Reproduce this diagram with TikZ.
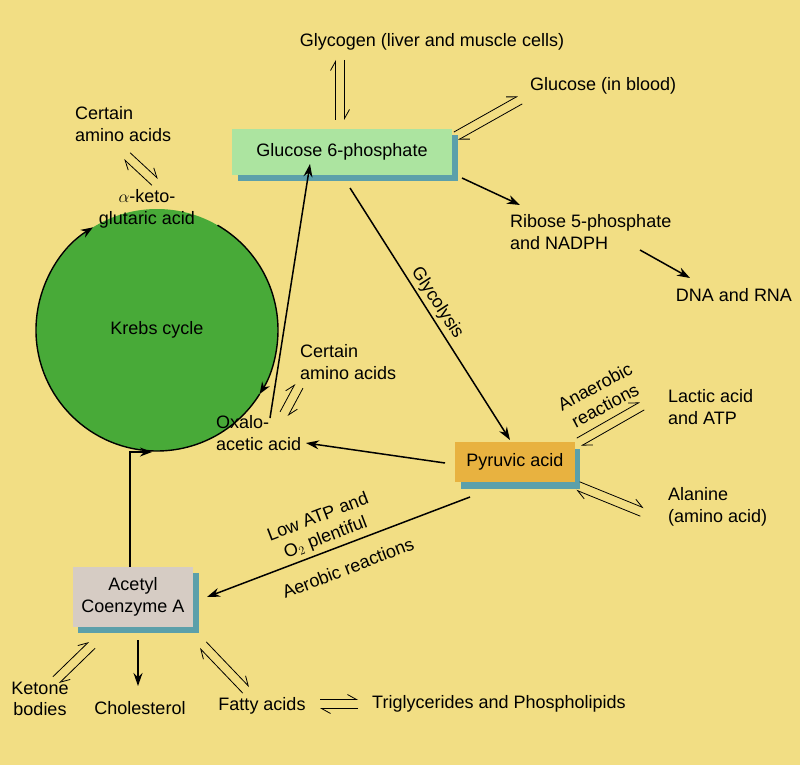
\documentclass[tikz,border=0pt]{standalone}
\usepackage{fontspec}
\setmainfont{Liberation Sans}
\usetikzlibrary{positioning,arrows.meta,calc}
\definecolor{paper}{RGB}{242,222,132}
\definecolor{krebs}{RGB}{72,170,56}
\definecolor{gbox}{RGB}{172,228,160}
\definecolor{pbox}{RGB}{232,178,64}
\definecolor{abox}{RGB}{214,204,196}
\definecolor{boxshadow}{RGB}{92,160,170}
\newcommand\revarrow[2]{%
  \draw[rev] ($(#1)!4.5pt!90:(#2)$) -- ($(#2)!4.5pt!-90:(#1)$);
  \draw[rev] ($(#2)!4.5pt!90:(#1)$) -- ($(#1)!4.5pt!-90:(#2)$);}
\begin{document}
\begin{tikzpicture}[x=1pt,y=-1pt,font=\fontsize{18}{21.5}\selectfont]
  \tikzset{box/.style = {rectangle, inner sep=0pt, text centered},
           txt/.style = {align=left, inner sep=0pt},
           arrow/.style = {line width=1.5pt,-{Stealth[length=13pt,width=9pt]}},
           rev/.style = {line width=0.8pt,-{Straight Barb[harpoon,length=9pt,width=10pt]}} }
  \fill[paper] (0,0) rectangle (800,765);
  \useasboundingbox (0,0) rectangle (800,765);

  % boxes with shadow
  \fill[boxshadow] (238,135) rectangle (458,181);
  \node[box, fill=gbox, minimum width=220pt, minimum height=46pt] (G6P) at (342,152) {Glucose 6-phosphate};
  \fill[boxshadow] (461,449) rectangle (580,489);
  \node[box, fill=pbox, minimum width=120pt, minimum height=40pt] (PA) at (515,462) {Pyruvic acid};
  \fill[boxshadow] (78,573) rectangle (199,633);
  \node[box, fill=abox, minimum width=120pt, minimum height=60pt, align=center] (ACoA) at (133,597) {Acetyl\\Coenzyme A};

  % Krebs cycle
  \fill[krebs] (157,330) circle (121);
  \node (KC) at (157,330) {Krebs cycle};
  \draw[line width=1.4pt,-{Stealth[length=12pt,width=9pt]}] (157,330) ++(-262:121) arc[start angle=-262,end angle=-122,radius=121];
  \draw[line width=1.4pt,-{Stealth[length=12pt,width=9pt]}] (157,330) ++(-60:121) arc[start angle=-60,end angle=32,radius=121];
  \draw[line width=1.4pt] (157,330) ++(32:121) arc[start angle=32,end angle=98,radius=121];

  % texts
  \node[txt] (GLY) at (432,42) {Glycogen (liver and muscle cells)};
  \node[txt, anchor=west] (GLB) at (530,86) {Glucose (in blood)};
  \node[txt, anchor=west] (RIB) at (510,232) {Ribose 5-phosphate\\and NADPH};
  \node[txt] (DNA) at (734,295) {DNA and RNA};
  \node[txt, anchor=west] (AA1) at (75,124) {Certain\\amino acids};
  \node[txt, align=center] (AKG) at (147,209) {$\alpha$-keto-\\glutaric acid};
  \node[txt, anchor=west] (AA2) at (300,362) {Certain\\amino acids};
  \node[txt, anchor=west] (OAA) at (216,433) {Oxalo-\\acetic acid};
  \node[txt, anchor=west] (LAC) at (668,407) {Lactic acid\\and ATP};
  \node[txt, anchor=west] (ALA) at (668,507) {Alanine\\(amino acid)};
  \node[txt, align=center] (KET) at (40,699) {Ketone\\bodies};
  \node[txt] (CHO) at (140,708) {Cholesterol};
  \node[txt] (FA) at (262,706) {Fatty acids};
  \node[txt, anchor=west] (TRI) at (372,704) {Triglycerides and Phospholipids};
  \node[txt, rotate=-57] (GLC) at (437,303) {Glycolysis};
  \node[txt, rotate=28, align=center] (ANA) at (600,396) {Anaerobic\\reactions};
  \node[txt, rotate=21, align=center] (LOW) at (322,528) {Low ATP and\\O$_2$ plentiful};
  \node[txt, rotate=21] (AER) at (348,568) {Aerobic reactions};

  % connector end points
  \coordinate (gA) at (340,60);  \coordinate (gB) at (340,120);
  \coordinate (bA) at (520,100); \coordinate (bB) at (456,136);
  \coordinate (aA) at (127,156); \coordinate (aB) at (155,182);
  \coordinate (mA) at (299,386); \coordinate (mB) at (284,414);
  \coordinate (lA) at (642,406); \coordinate (lB) at (579,442);
  \coordinate (nA) at (578,486); \coordinate (nB) at (642,512);
  \coordinate (kA) at (92,645);  \coordinate (kB) at (56,680);
  \coordinate (fA) at (203,645); \coordinate (fB) at (246,690);
  \coordinate (tA) at (320,704); \coordinate (tB) at (358,704);
  \coordinate (rA) at (462,178); \coordinate (rB) at (520,205);
  \coordinate (dA) at (640,250); \coordinate (dB) at (690,278);
  \coordinate (oA) at (270,418); \coordinate (oB) at (310,164);
  \coordinate (yA) at (350,188); \coordinate (yB) at (510,440);
  \coordinate (pA) at (445,463); \coordinate (pB) at (306,443);
  \coordinate (eA) at (470,497); \coordinate (eB) at (207,597);
  \coordinate (cA) at (138,640); \coordinate (cB) at (138,686);
  \coordinate (cyc) at (152,452);

  % reversible reactions
  \revarrow{gA}{gB}
  \revarrow{bA}{bB}
  \revarrow{aA}{aB}
  \revarrow{mA}{mB}
  \revarrow{lA}{lB}
  \revarrow{nA}{nB}
  \revarrow{kA}{kB}
  \revarrow{fA}{fB}
  \revarrow{tA}{tB}

  % one-way reactions
  \draw[arrow] (rA) -- (rB);
  \draw[arrow] (dA) -- (dB);
  \draw[arrow] (oA) -- (oB);
  \draw[arrow] (yA) -- (yB);
  \draw[arrow] (pA) -- (pB);
  \draw[arrow] (eA) -- (eB);
  \draw[arrow] (cA) -- (cB);
  \draw[line width=1.4pt,-{Stealth[length=12pt,width=9pt]}] (130,567) |- (cyc);
\end{tikzpicture}
\end{document}
